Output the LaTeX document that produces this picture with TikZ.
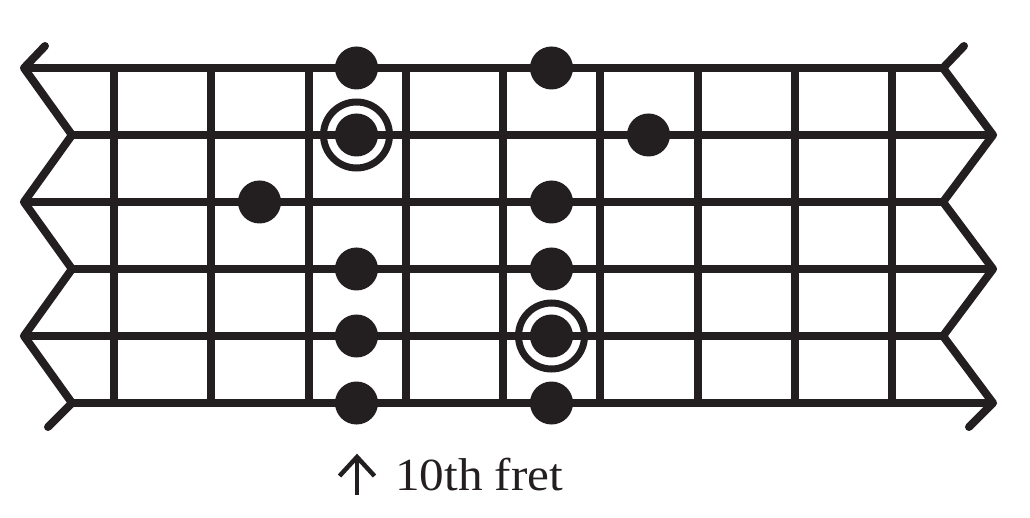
\documentclass[tikz,border=0pt]{standalone}
\usepackage{fontspec}
\setmainfont{Liberation Serif}
\newfontfamily\lblfont[FakeStretch=1.07]{Liberation Serif}
\definecolor{ink}{HTML}{231F20}
\begin{document}
\begin{tikzpicture}[x=1pt,y=-1pt,
  gridline/.style={draw=ink,line width=8pt},
  edge/.style={draw=ink,line width=8pt,line cap=round,line join=round},
  dot/.style={circle,fill=ink,minimum size=43pt,inner sep=0pt,outer sep=0pt},
  rootring/.style={draw=ink,line width=7pt,circle,minimum size=66pt,inner sep=0pt,fill=none},
  label/.style={text=ink,font=\lblfont\fontsize{46}{50}\selectfont,inner sep=0pt},
  uparrow/.style={draw=ink,line width=4.5pt,line join=miter}]
\useasboundingbox (0,0) rectangle (1030,518);
% strings
\foreach \y/\l/\r in {68/24/943,135/72/993,202/24/943,269/72/993,336/24/943,403/72/993}
  \draw[gridline] (\l,\y) -- (\r,\y);
% frets
\foreach \i in {0,...,8}
  \draw[gridline] ({114+97.25*\i},68) -- ({114+97.25*\i},403);
% zigzag edges
\draw[edge] (45,46) -- (24,68) -- (72,135) -- (24,202) -- (72,269) -- (24,336) -- (72,403) -- (48,427);
\draw[edge] (964,46) -- (943,68) -- (993,135) -- (943,202) -- (993,269) -- (943,336) -- (993,403) -- (969,427);
% dots
\node[dot] (a1) at (356.5,68) {};
\node[dot] (a2) at (356.5,135) {};
\node[dot] (b3) at (259.5,202) {};
\node[dot] (a4) at (356.5,269) {};
\node[dot] (a5) at (356.5,336) {};
\node[dot] (a6) at (356.5,403) {};
\node[dot] (c1) at (551.5,68) {};
\node[dot] (d2) at (648.5,135) {};
\node[dot] (c3) at (551.5,202) {};
\node[dot] (c4) at (551.5,269) {};
\node[dot] (c5) at (551.5,336) {};
\node[dot] (c6) at (551.5,403) {};
% root rings
\node[rootring] (r1) at (a2) {};
\node[rootring] (r2) at (c5) {};
% label with up arrow
\coordinate (arrtip) at (357,457);
\coordinate (arrfoot) at (357,495);
\draw[uparrow] (339.5,476) -- (arrtip) -- (374.5,476);
\draw[uparrow] (arrfoot) -- (arrtip);
\node[label,anchor=base west] (fret) at (395,490) {10th fret};
\end{tikzpicture}
\end{document}
